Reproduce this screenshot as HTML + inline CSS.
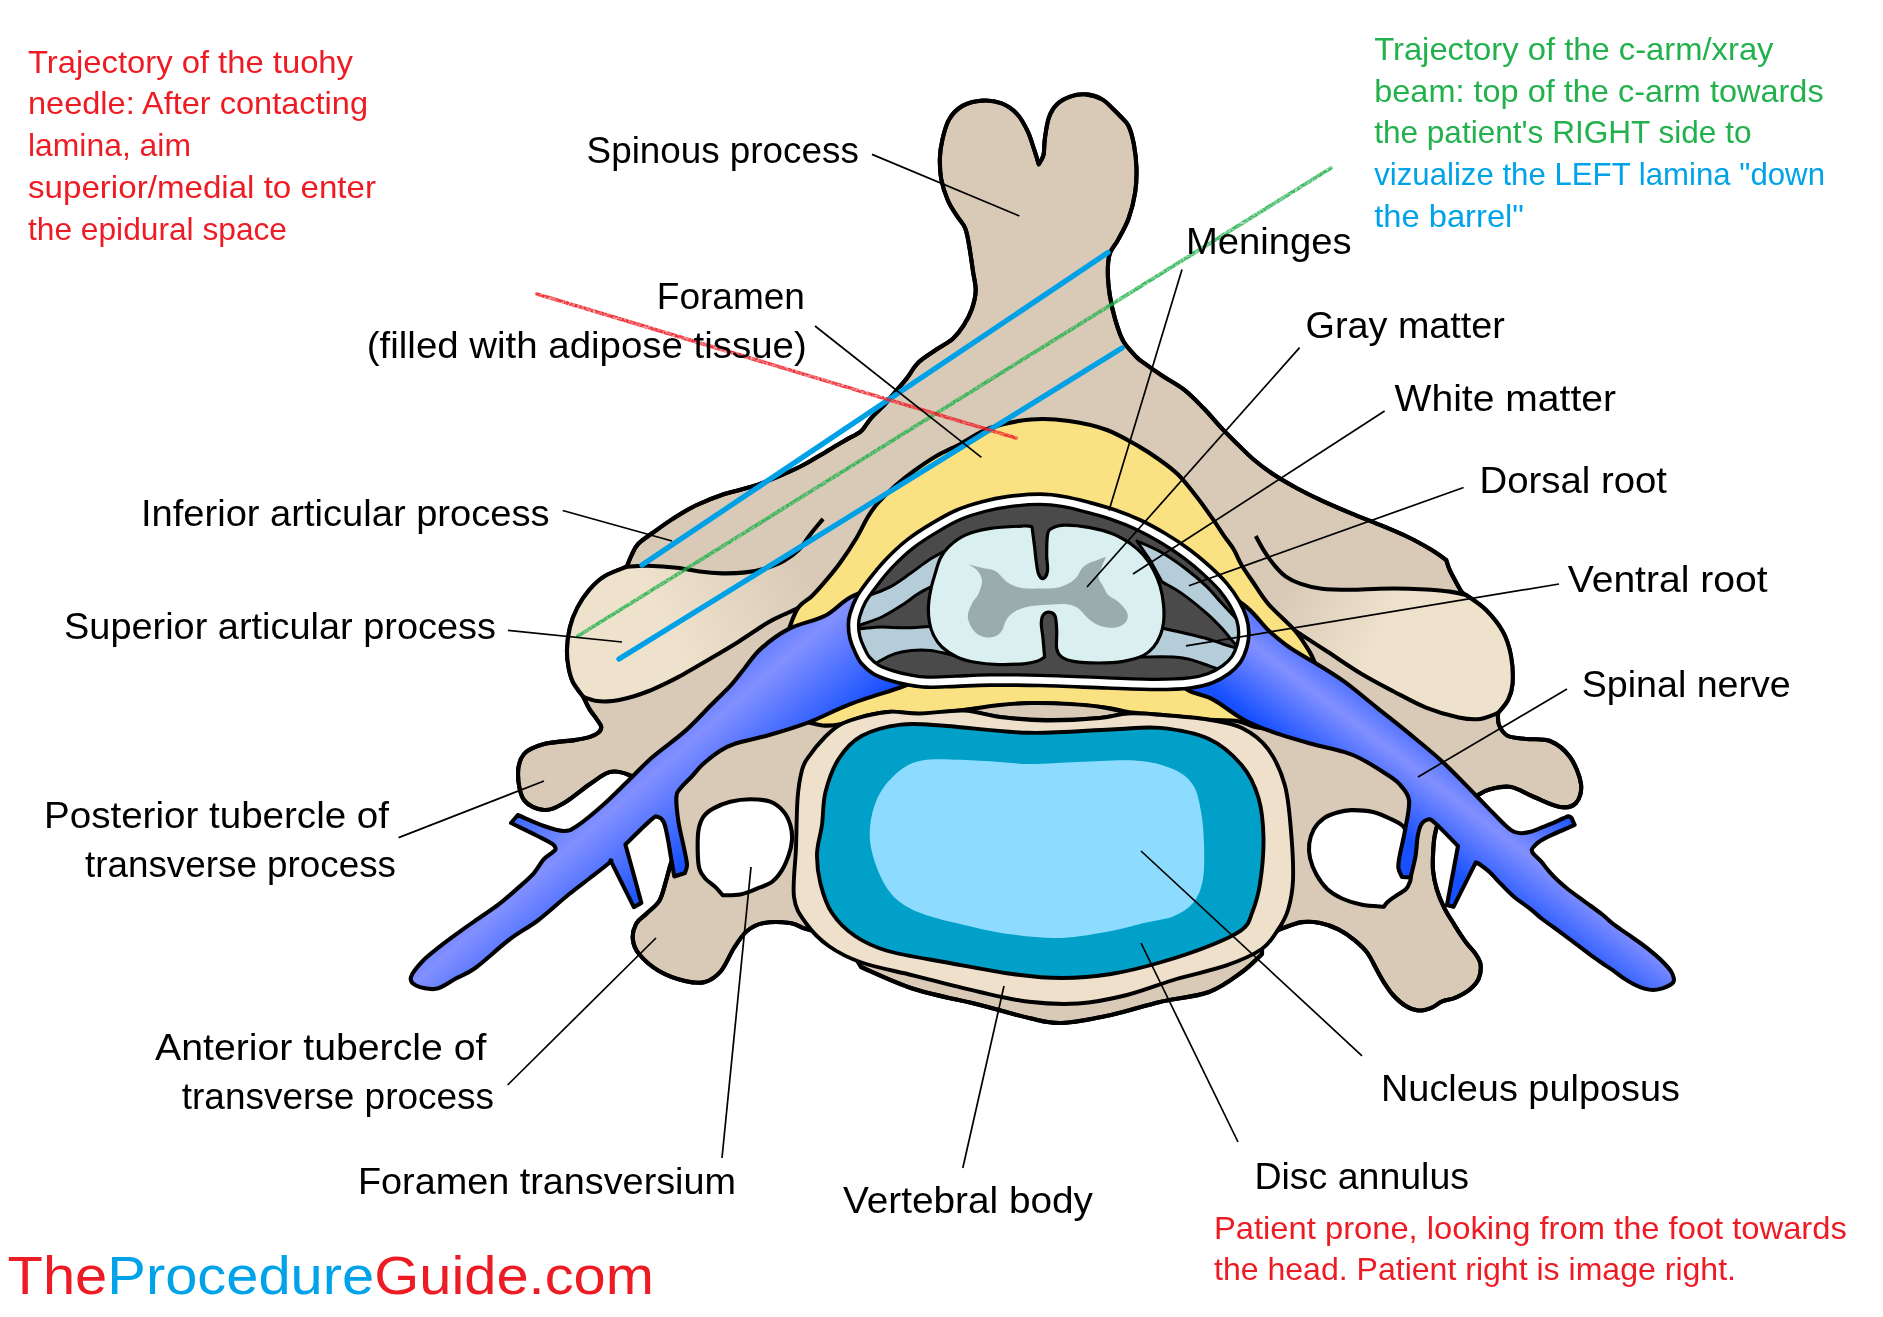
<!DOCTYPE html><html><head><meta charset="utf-8"><title>Cervical vertebra – interlaminar epidural trajectory</title>
<style>html,body{margin:0;padding:0;background:#fff}svg{display:block}text{font-family:"Liberation Sans",sans-serif}</style></head><body>
<svg width="1883" height="1317" viewBox="0 0 1883 1317">
<defs>
<linearGradient id="gL" gradientUnits="userSpaceOnUse" x1="590" y1="660" x2="800" y2="560"><stop offset="0" stop-color="#efe2cd"/><stop offset="0.35" stop-color="#efe2cd"/><stop offset="1" stop-color="#d8cab6"/></linearGradient>
<linearGradient id="gR" gradientUnits="userSpaceOnUse" x1="1500" y1="690" x2="1290" y2="580"><stop offset="0" stop-color="#efe2cd"/><stop offset="0.55" stop-color="#efe2cd"/><stop offset="1" stop-color="#d8cab6"/></linearGradient>
<linearGradient id="nL" gradientUnits="userSpaceOnUse" x1="705.8" y1="608.9" x2="824.2" y2="744.5"><stop offset="0" stop-color="#1650ff"/><stop offset="0.5" stop-color="#8290ff"/><stop offset="1" stop-color="#1650ff"/></linearGradient>
<linearGradient id="nR" gradientUnits="userSpaceOnUse" x1="1364" y1="654.2" x2="1291.2" y2="749.6"><stop offset="0" stop-color="#1650ff"/><stop offset="0.5" stop-color="#8290ff"/><stop offset="1" stop-color="#1650ff"/></linearGradient>
<clipPath id="cd"><path d="M848.4 625.3C848.4 621.1 848.6 618.3 850.0 613.6C851.4 608.9 853.6 602.6 856.7 597.0C859.8 591.4 863.7 586.3 868.4 580.2C873.1 574.1 878.7 566.9 885.1 560.2C891.5 553.5 899.0 546.2 906.8 540.1C914.6 534.0 923.5 528.4 931.9 523.4C940.2 518.4 948.5 513.6 956.9 510.0C965.2 506.4 973.6 503.9 982.0 501.7C990.4 499.5 997.3 497.9 1007.0 496.7C1016.7 495.4 1030.3 494.2 1040.0 494.2C1049.7 494.2 1056.7 495.3 1065.0 496.7C1073.3 498.1 1081.6 500.4 1090.0 502.6C1098.4 504.8 1106.8 507.1 1115.2 510.0C1123.6 512.9 1131.9 516.1 1140.2 520.0C1148.5 523.9 1156.9 528.5 1165.3 533.5C1173.7 538.5 1182.9 544.6 1190.4 550.2C1197.9 555.8 1204.3 561.3 1210.4 566.9C1216.5 572.5 1222.3 578.0 1227.0 583.6C1231.7 589.2 1235.6 594.7 1238.8 600.3C1242.0 605.9 1244.6 611.7 1246.3 617.0C1248.0 622.3 1248.7 627.0 1248.8 632.0C1248.9 637.0 1248.4 642.0 1247.0 647.0C1245.6 652.0 1243.5 657.5 1240.5 662.0C1237.5 666.5 1233.5 670.3 1228.8 673.8C1224.0 677.3 1218.4 680.6 1212.0 683.0C1205.6 685.4 1199.6 686.9 1190.4 688.0C1181.2 689.1 1170.9 689.5 1157.0 689.5C1143.1 689.5 1126.3 688.7 1106.8 688.0C1087.3 687.3 1059.4 686.0 1040.0 685.5C1020.6 685.0 1004.2 685.0 990.4 685.1C976.5 685.2 967.5 685.9 956.9 686.3C946.3 686.6 935.2 687.5 926.9 687.2C918.5 686.9 912.9 685.7 906.8 684.6C900.7 683.5 895.7 682.3 890.1 680.5C884.5 678.7 878.1 676.6 873.4 673.8C868.7 671.0 864.8 667.4 861.7 663.8C858.6 660.2 857.0 656.2 855.0 652.0C853.0 647.8 851.1 643.2 850.0 638.7C848.9 634.2 848.4 629.5 848.4 625.3Z"/></clipPath>
<filter id="rough" x="-2%" y="-2%" width="104%" height="104%"><feTurbulence type="fractalNoise" baseFrequency="0.45" numOctaves="2" seed="7" result="n"/><feColorMatrix in="n" type="matrix" values="0 0 0 0 0 0 0 0 0 0 0 0 0 0 0 0 0 0 -1.5 1.55" result="a"/><feComposite in="SourceGraphic" in2="a" operator="in"/></filter>
</defs>
<rect width="1883" height="1317" fill="#fff"/>
<g stroke="#000" stroke-width="4.1" stroke-linejoin="round" stroke-linecap="round">
<path d="M1038.7 164.3C1039.5 162.8 1042.5 159.2 1043.5 155.0C1044.5 150.8 1043.9 145.3 1044.8 139.1C1045.7 132.9 1046.8 123.6 1048.8 117.8C1050.8 112.0 1053.2 108.0 1056.8 104.5C1060.3 101.0 1065.2 98.3 1070.1 96.6C1075.0 94.9 1080.7 94.0 1086.0 94.4C1091.3 94.8 1097.6 96.9 1102.0 99.2C1106.4 101.5 1109.5 105.6 1112.6 108.5C1115.7 111.4 1117.9 113.6 1120.6 116.5C1123.2 119.4 1126.3 121.1 1128.5 125.8C1130.7 130.4 1132.6 137.3 1133.9 144.4C1135.2 151.5 1136.3 160.3 1136.5 168.3C1136.7 176.3 1136.5 183.8 1135.2 192.2C1133.9 200.6 1131.4 210.8 1128.5 218.8C1125.6 226.8 1121.0 234.3 1117.9 240.1C1114.8 245.9 1111.6 248.1 1109.9 253.4C1108.2 258.7 1107.8 264.9 1107.8 272.0C1107.8 279.1 1108.7 287.9 1109.9 295.9C1111.2 303.9 1113.1 312.3 1115.3 319.8C1117.5 327.3 1119.7 334.9 1123.2 341.1C1126.7 347.3 1133.1 353.4 1136.5 357.0C1139.9 360.6 1139.4 359.7 1143.8 362.9C1148.2 366.1 1156.3 371.8 1163.0 376.3C1169.7 380.8 1177.3 384.4 1184.0 389.7C1190.7 394.9 1196.8 401.3 1203.2 407.8C1209.6 414.3 1216.2 422.5 1222.3 428.9C1228.3 435.3 1234.1 440.8 1239.5 446.1C1244.9 451.4 1249.0 455.7 1254.8 460.5C1260.5 465.3 1267.0 470.2 1274.0 474.8C1281.0 479.4 1288.9 483.9 1296.9 488.2C1304.9 492.5 1312.9 496.5 1321.8 500.7C1330.7 504.9 1340.9 509.1 1350.5 513.1C1360.1 517.1 1369.6 520.6 1379.2 524.6C1388.8 528.6 1399.3 532.9 1407.9 537.0C1416.5 541.1 1424.5 545.7 1430.9 549.5C1437.3 553.3 1443.7 558.2 1446.2 560.0C1446.7 561.4 1447.8 565.6 1449.1 568.6C1450.4 571.6 1451.8 574.4 1453.9 578.2C1456.0 582.0 1459.5 588.8 1461.5 591.6C1463.5 594.4 1465.2 594.4 1466.0 595.0C1469.3 597.5 1479.8 603.8 1486.0 610.0C1492.2 616.2 1498.8 624.3 1503.0 632.0C1507.2 639.7 1509.4 647.3 1511.0 656.0C1512.6 664.7 1513.0 676.7 1512.5 684.0C1512.0 691.3 1510.4 695.2 1508.0 700.0C1505.6 704.8 1499.7 710.8 1498.0 713.0C1498.2 715.0 1497.3 721.2 1499.0 725.0C1500.7 728.8 1503.3 733.7 1508.0 736.0C1512.7 738.3 1520.0 738.2 1527.0 739.0C1534.0 739.8 1542.8 738.0 1550.0 741.0C1557.2 744.0 1564.8 749.8 1570.0 757.0C1575.2 764.2 1580.0 776.3 1581.0 784.0C1582.0 791.7 1579.5 799.2 1576.0 803.0C1572.5 806.8 1567.0 808.0 1560.0 807.0C1553.0 806.0 1542.2 800.3 1534.0 797.0C1525.8 793.7 1518.2 788.3 1511.0 787.0C1503.8 785.7 1496.5 787.7 1491.0 789.0C1485.5 790.3 1483.2 791.2 1478.0 795.0C1472.8 798.8 1466.3 807.5 1460.0 812.0C1453.7 816.5 1444.2 818.2 1440.0 822.0C1435.8 825.8 1436.1 829.6 1434.9 834.7C1433.8 839.9 1433.4 846.8 1433.1 852.9C1432.8 859.0 1432.5 865.0 1433.1 871.1C1433.7 877.2 1435.0 883.2 1436.8 889.3C1438.6 895.4 1441.1 901.5 1444.1 907.6C1447.1 913.7 1451.4 920.0 1455.0 925.8C1458.6 931.6 1462.6 937.7 1465.9 942.2C1469.2 946.8 1472.6 949.5 1475.0 953.1C1477.4 956.8 1479.9 959.9 1480.5 964.1C1481.1 968.4 1480.5 974.4 1478.7 978.6C1476.9 982.9 1473.5 986.4 1469.6 989.6C1465.6 992.8 1459.6 995.8 1455.0 997.8C1450.4 999.8 1446.2 999.7 1442.2 1001.4C1438.2 1003.1 1435.2 1006.3 1431.3 1007.8C1427.3 1009.3 1422.8 1010.8 1418.5 1010.5C1414.2 1010.2 1410.0 1008.6 1405.8 1006.0C1401.5 1003.4 1396.7 999.0 1393.0 995.0C1389.3 991.0 1386.6 986.5 1383.9 982.3C1381.2 978.0 1379.3 974.4 1376.6 969.5C1373.9 964.6 1371.1 958.0 1367.5 953.1C1363.9 948.2 1359.6 944.4 1354.8 940.4C1350.0 936.4 1344.2 932.3 1338.4 929.4C1332.6 926.5 1326.2 924.2 1320.1 923.0C1314.0 921.8 1308.3 921.2 1301.9 922.1C1295.5 923.0 1285.2 927.4 1281.9 928.5L1262.0 938.0L1262.0 954.0C1258.7 957.0 1250.8 965.7 1242.0 972.0C1233.2 978.3 1222.7 987.0 1209.0 992.0C1195.3 997.0 1176.3 998.2 1160.0 1002.0C1143.7 1005.8 1127.3 1011.5 1111.0 1015.0C1094.7 1018.5 1075.7 1022.5 1062.0 1023.0C1048.3 1023.5 1042.7 1021.0 1029.0 1018.0C1015.3 1015.0 999.2 1009.8 980.0 1005.0C960.8 1000.2 933.8 995.3 914.0 989.0C894.2 982.7 869.8 970.7 861.0 967.0L845.0 940.0L803.0 928.0C800.8 927.2 796.5 923.8 790.0 923.0C783.5 922.2 771.2 921.7 764.0 923.0C756.8 924.3 752.0 926.8 747.0 931.0C742.0 935.2 738.3 941.3 734.0 948.0C729.7 954.7 725.8 965.3 721.0 971.0C716.2 976.7 711.0 980.3 705.0 982.0C699.0 983.7 692.7 982.8 685.0 981.0C677.3 979.2 666.7 975.5 659.0 971.0C651.3 966.5 643.4 959.3 639.0 954.0C634.6 948.7 633.3 944.0 632.8 939.0C632.3 934.0 633.7 928.4 636.0 924.1C638.3 919.9 642.7 917.4 646.6 913.5C650.5 909.6 656.2 906.0 659.4 900.7C662.6 895.4 664.0 887.4 665.8 881.6C667.6 875.8 668.5 871.3 670.0 866.0C671.5 860.7 674.0 856.0 675.0 850.0C676.0 844.0 676.5 837.5 676.0 830.0C675.5 822.5 675.5 811.7 672.0 805.0C668.5 798.3 662.2 795.0 655.0 790.0C647.8 785.0 636.5 778.0 629.0 775.0C621.5 772.0 616.5 770.5 610.0 772.0C603.5 773.5 597.7 778.8 590.0 784.0C582.3 789.2 571.7 798.7 564.0 803.0C556.3 807.3 550.7 810.5 544.0 810.0C537.3 809.5 528.3 806.0 524.0 800.0C519.7 794.0 518.0 781.7 518.0 774.0C518.0 766.3 519.7 759.0 524.0 754.0C528.3 749.0 535.6 746.3 544.0 744.0C552.4 741.7 566.9 741.2 574.4 740.1C581.9 739.0 585.3 738.3 589.3 737.1C593.3 735.9 596.2 734.4 598.2 732.7C600.2 731.0 601.4 728.9 601.2 726.7C601.0 724.5 598.8 722.3 596.8 719.3C594.8 716.3 591.5 712.6 589.3 708.9C587.1 705.2 584.4 699.0 583.4 697.0C581.6 694.5 575.4 687.0 572.9 682.0C570.4 677.0 569.5 672.7 568.5 667.2C567.5 661.8 566.8 656.0 567.0 649.3C567.2 642.6 568.3 634.0 570.0 627.0C571.7 620.0 574.2 613.8 577.4 607.6C580.6 601.4 584.8 595.0 589.3 589.8C593.8 584.6 598.0 580.2 604.2 576.4C610.5 572.5 623.0 568.3 626.8 566.7C627.6 564.8 629.7 559.0 631.6 555.2C633.5 551.4 634.6 547.5 638.3 543.7C642.0 539.9 647.9 536.3 653.6 532.2C659.3 528.1 665.7 523.4 672.7 518.9C679.7 514.4 687.1 509.6 695.7 505.5C704.3 501.4 714.8 497.2 724.4 494.0C734.0 490.8 744.2 489.2 753.1 486.3C762.0 483.4 769.7 480.2 778.0 476.7C786.3 473.2 794.9 469.4 802.9 465.3C810.9 461.2 818.8 456.0 825.8 451.9C832.8 447.8 839.2 443.8 845.0 440.4C850.8 437.0 856.8 434.4 860.3 431.8C863.8 429.2 864.1 427.5 866.0 425.1C867.9 422.7 868.9 420.6 871.8 417.4C874.7 414.2 879.5 410.0 883.3 405.9C887.1 401.8 890.9 397.0 894.7 392.5C898.5 388.0 902.2 384.1 906.2 379.1C910.2 374.1 913.4 367.3 918.6 362.3C923.8 357.3 931.5 353.0 937.2 349.0C943.0 345.0 948.7 342.4 953.1 338.4C957.5 334.4 960.7 330.0 963.8 325.1C966.9 320.2 969.8 314.9 971.8 309.2C973.8 303.4 975.5 296.8 975.7 290.6C975.9 284.4 974.2 279.5 973.1 272.0C972.0 264.5 970.4 252.7 969.1 245.4C967.8 238.1 967.1 233.0 965.1 228.1C963.1 223.2 960.0 220.8 957.1 216.2C954.2 211.5 950.4 206.4 947.8 200.2C945.1 194.0 942.5 186.1 941.2 179.0C939.9 171.9 939.7 164.3 939.9 157.7C940.1 151.0 941.0 145.5 942.5 139.1C944.0 132.7 945.9 124.7 949.2 119.2C952.5 113.7 957.0 109.0 962.5 105.9C968.0 102.8 976.0 101.0 982.4 100.6C988.8 100.1 995.2 101.0 1001.0 103.2C1006.8 105.4 1012.5 109.2 1016.9 113.8C1021.3 118.4 1024.7 125.1 1027.6 131.1C1030.5 137.1 1032.3 144.2 1034.2 149.7C1036.1 155.2 1038.0 161.9 1038.7 164.3Z" fill="#d8cab6"/>
<path d="M626.8 566.7C630.3 566.5 639.5 565.5 647.8 565.7C656.1 565.9 668.0 566.7 676.6 567.7C685.2 568.7 691.9 570.5 699.5 571.5C707.1 572.5 714.8 573.2 722.5 573.4C730.2 573.5 738.5 573.2 745.5 572.4C752.5 571.6 758.2 570.5 764.6 568.6C771.0 566.7 778.0 564.2 783.7 561.0C789.4 557.8 794.5 554.0 799.0 549.5C803.5 545.0 806.5 539.3 810.5 534.2C814.5 529.1 820.9 521.5 823.0 518.9C828.6 522.1 853.7 530.6 856.5 538.0C859.3 545.4 845.6 555.3 840.0 563.0C834.4 570.7 827.7 578.5 823.0 584.0C818.3 589.5 816.2 592.0 812.0 596.0C807.8 600.0 800.3 606.0 798.0 608.0C795.7 609.1 789.0 612.1 784.0 614.5C779.0 616.9 775.6 617.9 768.0 622.5C760.4 627.1 748.1 635.7 738.2 641.9C728.3 648.1 718.3 653.9 708.4 659.7C698.5 665.5 686.0 672.8 678.6 676.9C671.2 681.0 668.7 681.9 663.7 684.3C658.8 686.6 653.9 689.0 648.9 691.0C643.9 693.0 639.0 694.7 634.0 696.2C629.0 697.7 623.6 699.0 619.1 699.9C614.6 700.8 611.2 701.3 607.2 701.4C603.2 701.5 599.3 701.4 595.3 700.7C591.3 700.0 585.4 697.6 583.4 697.0C581.6 694.5 575.4 687.0 572.9 682.0C570.4 677.0 569.5 672.7 568.5 667.2C567.5 661.8 566.8 656.0 567.0 649.3C567.2 642.6 568.3 634.0 570.0 627.0C571.7 620.0 574.2 613.8 577.4 607.6C580.6 601.4 584.8 595.0 589.3 589.8C593.8 584.6 598.0 580.2 604.2 576.4C610.5 572.5 623.0 568.3 626.8 566.7Z" fill="url(#gL)" stroke="none"/>
<path d="M1466.0 595.0C1469.3 597.5 1479.8 603.8 1486.0 610.0C1492.2 616.2 1498.8 624.3 1503.0 632.0C1507.2 639.7 1509.4 647.3 1511.0 656.0C1512.6 664.7 1513.0 676.7 1512.5 684.0C1512.0 691.3 1510.4 695.2 1508.0 700.0C1505.6 704.8 1499.7 710.8 1498.0 713.0C1495.0 714.0 1486.5 718.2 1480.0 719.0C1473.5 719.8 1467.8 719.4 1458.8 717.5C1449.8 715.6 1436.9 712.0 1426.0 707.6C1415.1 703.2 1404.1 696.9 1393.2 691.2C1382.3 685.5 1371.3 679.8 1360.4 673.2C1349.5 666.6 1338.5 658.9 1327.6 651.8C1316.7 644.7 1300.3 634.0 1294.8 630.5C1290.4 626.1 1277.5 615.2 1268.6 604.3C1259.7 593.3 1247.2 573.9 1241.4 564.8C1235.6 555.7 1231.4 554.3 1233.8 549.5C1236.2 544.7 1252.1 538.3 1255.8 536.1C1257.2 538.6 1261.4 546.6 1264.4 551.4C1267.4 556.2 1270.5 560.6 1274.0 564.8C1277.5 568.9 1281.0 573.1 1285.5 576.3C1290.0 579.5 1294.8 581.8 1300.8 583.9C1306.8 586.0 1313.5 587.7 1321.8 588.7C1330.1 589.7 1340.9 589.7 1350.5 589.7C1360.1 589.7 1369.6 588.9 1379.2 588.7C1388.8 588.5 1399.3 588.5 1407.9 588.7C1416.5 588.9 1423.9 589.2 1430.9 589.7C1437.9 590.2 1444.2 590.7 1450.0 591.6C1455.8 592.5 1463.3 594.4 1466.0 595.0Z" fill="url(#gR)" stroke="none"/>
<path d="M1038.7 164.3C1039.5 162.8 1042.5 159.2 1043.5 155.0C1044.5 150.8 1043.9 145.3 1044.8 139.1C1045.7 132.9 1046.8 123.6 1048.8 117.8C1050.8 112.0 1053.2 108.0 1056.8 104.5C1060.3 101.0 1065.2 98.3 1070.1 96.6C1075.0 94.9 1080.7 94.0 1086.0 94.4C1091.3 94.8 1097.6 96.9 1102.0 99.2C1106.4 101.5 1109.5 105.6 1112.6 108.5C1115.7 111.4 1117.9 113.6 1120.6 116.5C1123.2 119.4 1126.3 121.1 1128.5 125.8C1130.7 130.4 1132.6 137.3 1133.9 144.4C1135.2 151.5 1136.3 160.3 1136.5 168.3C1136.7 176.3 1136.5 183.8 1135.2 192.2C1133.9 200.6 1131.4 210.8 1128.5 218.8C1125.6 226.8 1121.0 234.3 1117.9 240.1C1114.8 245.9 1111.6 248.1 1109.9 253.4C1108.2 258.7 1107.8 264.9 1107.8 272.0C1107.8 279.1 1108.7 287.9 1109.9 295.9C1111.2 303.9 1113.1 312.3 1115.3 319.8C1117.5 327.3 1119.7 334.9 1123.2 341.1C1126.7 347.3 1133.1 353.4 1136.5 357.0C1139.9 360.6 1139.4 359.7 1143.8 362.9C1148.2 366.1 1156.3 371.8 1163.0 376.3C1169.7 380.8 1177.3 384.4 1184.0 389.7C1190.7 394.9 1196.8 401.3 1203.2 407.8C1209.6 414.3 1216.2 422.5 1222.3 428.9C1228.3 435.3 1234.1 440.8 1239.5 446.1C1244.9 451.4 1249.0 455.7 1254.8 460.5C1260.5 465.3 1267.0 470.2 1274.0 474.8C1281.0 479.4 1288.9 483.9 1296.9 488.2C1304.9 492.5 1312.9 496.5 1321.8 500.7C1330.7 504.9 1340.9 509.1 1350.5 513.1C1360.1 517.1 1369.6 520.6 1379.2 524.6C1388.8 528.6 1399.3 532.9 1407.9 537.0C1416.5 541.1 1424.5 545.7 1430.9 549.5C1437.3 553.3 1443.7 558.2 1446.2 560.0C1446.7 561.4 1447.8 565.6 1449.1 568.6C1450.4 571.6 1451.8 574.4 1453.9 578.2C1456.0 582.0 1459.5 588.8 1461.5 591.6C1463.5 594.4 1465.2 594.4 1466.0 595.0C1469.3 597.5 1479.8 603.8 1486.0 610.0C1492.2 616.2 1498.8 624.3 1503.0 632.0C1507.2 639.7 1509.4 647.3 1511.0 656.0C1512.6 664.7 1513.0 676.7 1512.5 684.0C1512.0 691.3 1510.4 695.2 1508.0 700.0C1505.6 704.8 1499.7 710.8 1498.0 713.0C1498.2 715.0 1497.3 721.2 1499.0 725.0C1500.7 728.8 1503.3 733.7 1508.0 736.0C1512.7 738.3 1520.0 738.2 1527.0 739.0C1534.0 739.8 1542.8 738.0 1550.0 741.0C1557.2 744.0 1564.8 749.8 1570.0 757.0C1575.2 764.2 1580.0 776.3 1581.0 784.0C1582.0 791.7 1579.5 799.2 1576.0 803.0C1572.5 806.8 1567.0 808.0 1560.0 807.0C1553.0 806.0 1542.2 800.3 1534.0 797.0C1525.8 793.7 1518.2 788.3 1511.0 787.0C1503.8 785.7 1496.5 787.7 1491.0 789.0C1485.5 790.3 1483.2 791.2 1478.0 795.0C1472.8 798.8 1466.3 807.5 1460.0 812.0C1453.7 816.5 1444.2 818.2 1440.0 822.0C1435.8 825.8 1436.1 829.6 1434.9 834.7C1433.8 839.9 1433.4 846.8 1433.1 852.9C1432.8 859.0 1432.5 865.0 1433.1 871.1C1433.7 877.2 1435.0 883.2 1436.8 889.3C1438.6 895.4 1441.1 901.5 1444.1 907.6C1447.1 913.7 1451.4 920.0 1455.0 925.8C1458.6 931.6 1462.6 937.7 1465.9 942.2C1469.2 946.8 1472.6 949.5 1475.0 953.1C1477.4 956.8 1479.9 959.9 1480.5 964.1C1481.1 968.4 1480.5 974.4 1478.7 978.6C1476.9 982.9 1473.5 986.4 1469.6 989.6C1465.6 992.8 1459.6 995.8 1455.0 997.8C1450.4 999.8 1446.2 999.7 1442.2 1001.4C1438.2 1003.1 1435.2 1006.3 1431.3 1007.8C1427.3 1009.3 1422.8 1010.8 1418.5 1010.5C1414.2 1010.2 1410.0 1008.6 1405.8 1006.0C1401.5 1003.4 1396.7 999.0 1393.0 995.0C1389.3 991.0 1386.6 986.5 1383.9 982.3C1381.2 978.0 1379.3 974.4 1376.6 969.5C1373.9 964.6 1371.1 958.0 1367.5 953.1C1363.9 948.2 1359.6 944.4 1354.8 940.4C1350.0 936.4 1344.2 932.3 1338.4 929.4C1332.6 926.5 1326.2 924.2 1320.1 923.0C1314.0 921.8 1308.3 921.2 1301.9 922.1C1295.5 923.0 1285.2 927.4 1281.9 928.5L1262.0 938.0L1262.0 954.0C1258.7 957.0 1250.8 965.7 1242.0 972.0C1233.2 978.3 1222.7 987.0 1209.0 992.0C1195.3 997.0 1176.3 998.2 1160.0 1002.0C1143.7 1005.8 1127.3 1011.5 1111.0 1015.0C1094.7 1018.5 1075.7 1022.5 1062.0 1023.0C1048.3 1023.5 1042.7 1021.0 1029.0 1018.0C1015.3 1015.0 999.2 1009.8 980.0 1005.0C960.8 1000.2 933.8 995.3 914.0 989.0C894.2 982.7 869.8 970.7 861.0 967.0L845.0 940.0L803.0 928.0C800.8 927.2 796.5 923.8 790.0 923.0C783.5 922.2 771.2 921.7 764.0 923.0C756.8 924.3 752.0 926.8 747.0 931.0C742.0 935.2 738.3 941.3 734.0 948.0C729.7 954.7 725.8 965.3 721.0 971.0C716.2 976.7 711.0 980.3 705.0 982.0C699.0 983.7 692.7 982.8 685.0 981.0C677.3 979.2 666.7 975.5 659.0 971.0C651.3 966.5 643.4 959.3 639.0 954.0C634.6 948.7 633.3 944.0 632.8 939.0C632.3 934.0 633.7 928.4 636.0 924.1C638.3 919.9 642.7 917.4 646.6 913.5C650.5 909.6 656.2 906.0 659.4 900.7C662.6 895.4 664.0 887.4 665.8 881.6C667.6 875.8 668.5 871.3 670.0 866.0C671.5 860.7 674.0 856.0 675.0 850.0C676.0 844.0 676.5 837.5 676.0 830.0C675.5 822.5 675.5 811.7 672.0 805.0C668.5 798.3 662.2 795.0 655.0 790.0C647.8 785.0 636.5 778.0 629.0 775.0C621.5 772.0 616.5 770.5 610.0 772.0C603.5 773.5 597.7 778.8 590.0 784.0C582.3 789.2 571.7 798.7 564.0 803.0C556.3 807.3 550.7 810.5 544.0 810.0C537.3 809.5 528.3 806.0 524.0 800.0C519.7 794.0 518.0 781.7 518.0 774.0C518.0 766.3 519.7 759.0 524.0 754.0C528.3 749.0 535.6 746.3 544.0 744.0C552.4 741.7 566.9 741.2 574.4 740.1C581.9 739.0 585.3 738.3 589.3 737.1C593.3 735.9 596.2 734.4 598.2 732.7C600.2 731.0 601.4 728.9 601.2 726.7C601.0 724.5 598.8 722.3 596.8 719.3C594.8 716.3 591.5 712.6 589.3 708.9C587.1 705.2 584.4 699.0 583.4 697.0C581.6 694.5 575.4 687.0 572.9 682.0C570.4 677.0 569.5 672.7 568.5 667.2C567.5 661.8 566.8 656.0 567.0 649.3C567.2 642.6 568.3 634.0 570.0 627.0C571.7 620.0 574.2 613.8 577.4 607.6C580.6 601.4 584.8 595.0 589.3 589.8C593.8 584.6 598.0 580.2 604.2 576.4C610.5 572.5 623.0 568.3 626.8 566.7C627.6 564.8 629.7 559.0 631.6 555.2C633.5 551.4 634.6 547.5 638.3 543.7C642.0 539.9 647.9 536.3 653.6 532.2C659.3 528.1 665.7 523.4 672.7 518.9C679.7 514.4 687.1 509.6 695.7 505.5C704.3 501.4 714.8 497.2 724.4 494.0C734.0 490.8 744.2 489.2 753.1 486.3C762.0 483.4 769.7 480.2 778.0 476.7C786.3 473.2 794.9 469.4 802.9 465.3C810.9 461.2 818.8 456.0 825.8 451.9C832.8 447.8 839.2 443.8 845.0 440.4C850.8 437.0 856.8 434.4 860.3 431.8C863.8 429.2 864.1 427.5 866.0 425.1C867.9 422.7 868.9 420.6 871.8 417.4C874.7 414.2 879.5 410.0 883.3 405.9C887.1 401.8 890.9 397.0 894.7 392.5C898.5 388.0 902.2 384.1 906.2 379.1C910.2 374.1 913.4 367.3 918.6 362.3C923.8 357.3 931.5 353.0 937.2 349.0C943.0 345.0 948.7 342.4 953.1 338.4C957.5 334.4 960.7 330.0 963.8 325.1C966.9 320.2 969.8 314.9 971.8 309.2C973.8 303.4 975.5 296.8 975.7 290.6C975.9 284.4 974.2 279.5 973.1 272.0C972.0 264.5 970.4 252.7 969.1 245.4C967.8 238.1 967.1 233.0 965.1 228.1C963.1 223.2 960.0 220.8 957.1 216.2C954.2 211.5 950.4 206.4 947.8 200.2C945.1 194.0 942.5 186.1 941.2 179.0C939.9 171.9 939.7 164.3 939.9 157.7C940.1 151.0 941.0 145.5 942.5 139.1C944.0 132.7 945.9 124.7 949.2 119.2C952.5 113.7 957.0 109.0 962.5 105.9C968.0 102.8 976.0 101.0 982.4 100.6C988.8 100.1 995.2 101.0 1001.0 103.2C1006.8 105.4 1012.5 109.2 1016.9 113.8C1021.3 118.4 1024.7 125.1 1027.6 131.1C1030.5 137.1 1032.3 144.2 1034.2 149.7C1036.1 155.2 1038.0 161.9 1038.7 164.3Z" fill="none"/>
<path d="M626.8 566.7C630.3 566.5 639.5 565.5 647.8 565.7C656.1 565.9 668.0 566.7 676.6 567.7C685.2 568.7 691.9 570.5 699.5 571.5C707.1 572.5 714.8 573.2 722.5 573.4C730.2 573.5 738.5 573.2 745.5 572.4C752.5 571.6 758.2 570.5 764.6 568.6C771.0 566.7 778.0 564.2 783.7 561.0C789.4 557.8 794.5 554.0 799.0 549.5C803.5 545.0 806.5 539.3 810.5 534.2C814.5 529.1 820.9 521.5 823.0 518.9" fill="none" stroke-linecap="butt"/>
<path d="M583.4 697.0C585.4 697.6 591.3 700.0 595.3 700.7C599.3 701.4 603.2 701.5 607.2 701.4C611.2 701.3 614.6 700.8 619.1 699.9C623.6 699.0 629.0 697.7 634.0 696.2C639.0 694.7 643.9 693.0 648.9 691.0C653.9 689.0 658.8 686.6 663.7 684.3C668.7 681.9 671.2 681.0 678.6 676.9C686.0 672.8 698.5 665.5 708.4 659.7C718.3 653.9 728.3 648.1 738.2 641.9C748.1 635.7 760.4 627.1 768.0 622.5C775.6 617.9 779.0 616.9 784.0 614.5C789.0 612.1 795.7 609.1 798.0 608.0" fill="none"/>
<path d="M1255.8 536.1C1257.2 538.6 1261.4 546.6 1264.4 551.4C1267.4 556.2 1270.5 560.6 1274.0 564.8C1277.5 568.9 1281.0 573.1 1285.5 576.3C1290.0 579.5 1294.8 581.8 1300.8 583.9C1306.8 586.0 1313.5 587.7 1321.8 588.7C1330.1 589.7 1340.9 589.7 1350.5 589.7C1360.1 589.7 1369.6 588.9 1379.2 588.7C1388.8 588.5 1399.3 588.5 1407.9 588.7C1416.5 588.9 1423.9 589.2 1430.9 589.7C1437.9 590.2 1444.2 590.7 1450.0 591.6C1455.8 592.5 1463.3 594.4 1466.0 595.0" fill="none" stroke-linecap="butt"/>
<path d="M1498.0 713.0C1495.0 714.0 1486.5 718.2 1480.0 719.0C1473.5 719.8 1467.8 719.4 1458.8 717.5C1449.8 715.6 1436.9 712.0 1426.0 707.6C1415.1 703.2 1404.1 696.9 1393.2 691.2C1382.3 685.5 1371.3 679.8 1360.4 673.2C1349.5 666.6 1338.5 658.9 1327.6 651.8C1316.7 644.7 1300.3 634.0 1294.8 630.5" fill="none"/>
<path d="M722.7 895.2C721.5 893.8 718.1 889.7 715.2 886.9C712.3 884.1 707.9 881.6 705.2 878.5C702.6 875.4 700.5 873.2 699.3 868.5C698.0 863.8 697.8 856.5 697.7 850.1C697.6 843.7 697.5 835.7 698.5 830.1C699.5 824.5 701.0 820.3 703.5 816.7C706.0 813.1 709.0 810.9 713.5 808.4C718.0 805.9 724.1 803.2 730.2 801.7C736.3 800.2 743.6 799.2 750.3 799.2C757.0 799.2 764.7 799.6 770.3 801.7C775.9 803.8 780.4 807.8 783.7 811.7C787.1 815.6 789.0 820.4 790.4 825.1C791.8 829.8 792.3 835.1 792.0 840.1C791.7 845.1 790.4 850.2 788.7 855.2C787.0 860.2 784.8 865.8 782.0 870.2C779.2 874.7 776.2 878.8 772.0 881.9C767.8 885.0 762.3 886.5 757.0 888.6C751.7 890.7 746.0 893.3 740.3 894.4C734.6 895.5 725.6 895.1 722.7 895.2Z" fill="#fff"/>
<path d="M1383.9 906.7C1380.2 906.4 1369.0 906.2 1362.0 904.8C1355.0 903.4 1347.8 901.1 1342.0 898.5C1336.2 895.9 1331.7 893.2 1327.4 889.3C1323.2 885.3 1319.4 879.9 1316.5 874.8C1313.6 869.6 1311.3 863.6 1310.1 858.4C1308.9 853.2 1308.6 848.7 1309.2 843.8C1309.8 838.9 1311.4 833.5 1313.8 829.2C1316.2 825.0 1320.0 821.0 1323.8 818.3C1327.6 815.6 1332.0 814.2 1336.5 812.8C1341.0 811.4 1345.0 810.2 1351.1 810.1C1357.2 810.0 1366.3 810.4 1373.0 811.9C1379.7 813.4 1386.0 816.6 1391.2 819.2C1396.4 821.8 1401.0 822.9 1404.0 827.4C1407.0 831.9 1407.9 838.0 1409.0 846.0C1410.1 854.0 1410.7 869.4 1410.8 875.6C1410.9 881.8 1410.2 880.7 1409.4 883.0C1408.6 885.3 1408.2 887.0 1405.8 889.3C1403.4 891.6 1397.9 894.5 1394.9 896.6C1391.9 898.7 1389.4 900.4 1387.6 902.1C1385.8 903.8 1384.5 905.9 1383.9 906.7Z" fill="#fff"/>
<path d="M788.9 628.9C790.4 625.4 794.1 613.5 798.0 608.0C801.9 602.5 807.8 600.0 812.0 596.0C816.2 592.0 818.3 589.5 823.0 584.0C827.7 578.5 834.4 570.7 840.0 563.0C845.6 555.3 851.9 545.7 856.5 538.0C861.1 530.3 864.4 522.6 867.9 516.9C871.4 511.1 873.0 508.6 877.5 503.5C882.0 498.4 888.6 491.7 894.7 486.3C900.8 480.9 906.9 476.1 913.9 471.0C920.9 465.9 929.1 460.2 936.8 455.7C944.5 451.2 951.1 448.8 960.0 444.2C968.9 439.6 978.2 432.1 990.0 428.0C1001.8 423.9 1017.8 420.7 1031.0 419.5C1044.2 418.3 1056.3 419.2 1069.0 421.0C1081.7 422.8 1095.2 425.6 1107.0 430.0C1118.8 434.4 1131.3 442.2 1140.0 447.1C1148.7 452.0 1152.7 454.9 1159.1 459.5C1165.5 464.1 1171.9 468.4 1178.3 474.8C1184.7 481.2 1191.7 490.5 1197.4 497.8C1203.1 505.1 1208.2 512.5 1212.7 518.9C1217.2 525.3 1220.7 531.0 1224.2 536.1C1227.7 541.2 1230.9 544.7 1233.8 549.5C1236.7 554.3 1238.2 559.4 1241.4 564.8C1244.6 570.2 1248.4 575.4 1252.9 582.0C1257.4 588.6 1261.6 596.2 1268.6 604.3C1275.6 612.4 1288.0 622.6 1294.8 630.5C1301.6 638.4 1306.3 646.5 1309.6 651.8C1312.9 657.0 1313.7 660.3 1314.5 662.0L1272.0 729.0C1269.2 728.7 1260.8 728.3 1255.0 727.0C1249.2 725.7 1244.7 722.2 1237.0 721.0C1229.3 719.8 1221.8 720.7 1209.0 719.7C1196.2 718.7 1173.5 716.1 1160.0 714.8C1146.5 713.5 1137.8 713.3 1128.0 712.0C1118.2 710.7 1117.0 708.5 1101.0 707.0C1085.0 705.5 1054.8 702.5 1032.0 703.0C1009.2 703.5 982.7 708.2 964.0 710.0C945.3 711.8 932.2 713.7 920.0 714.0C907.8 714.3 899.6 711.4 890.6 711.7C881.6 712.0 874.2 713.8 866.0 715.8C857.8 717.8 848.2 722.4 841.4 724.0C834.6 725.6 830.5 725.9 825.0 725.6C819.5 725.3 811.3 722.9 808.6 722.4L788.9 628.9Z" fill="#fae282"/>
<path d="M964.0 710.0C970.0 709.2 988.7 706.2 1000.0 705.0C1011.3 703.8 1020.3 703.2 1032.0 703.0C1043.7 702.8 1058.5 703.3 1070.0 704.0C1081.5 704.7 1091.3 705.5 1101.0 707.0C1110.7 708.5 1123.5 712.0 1128.0 713.0C1123.3 713.8 1113.7 716.8 1100.0 718.0C1086.3 719.2 1062.7 720.2 1046.0 720.0C1029.3 719.8 1013.7 718.7 1000.0 717.0C986.3 715.3 970.0 711.2 964.0 710.0Z" fill="#d8cab6"/>
<path d="M880.0 585.0C874.9 587.1 858.8 592.6 849.6 597.7C840.4 602.8 835.1 610.6 825.0 615.8C814.9 621.0 799.6 623.4 788.9 628.9C778.2 634.4 768.4 642.0 761.0 648.6C753.6 655.2 749.5 662.2 744.6 668.2C739.7 674.2 737.0 678.6 731.5 684.6C726.0 690.6 719.4 696.6 711.8 704.3C704.1 712.0 695.4 721.9 685.6 730.6C675.8 739.4 662.2 748.6 652.8 756.8C643.4 765.0 637.3 772.0 629.0 780.0C620.7 788.0 611.7 797.3 603.0 805.0C594.3 812.7 583.5 821.7 577.0 826.0C570.5 830.3 569.2 831.0 563.7 831.0C558.2 831.0 551.6 828.7 544.0 826.0C536.4 823.3 522.2 816.8 517.8 815.0L511.0 823.0C515.4 825.2 530.6 832.5 537.5 836.0C544.4 839.5 549.3 841.7 552.3 843.9C555.3 846.1 555.6 847.6 555.6 849.0C555.6 850.4 554.3 850.7 552.3 852.5C550.3 854.3 546.5 856.2 543.4 859.7C540.3 863.2 537.6 869.0 533.5 873.6C529.4 878.2 524.5 882.3 518.7 887.4C513.0 892.5 505.6 899.1 499.0 904.2C492.4 909.3 485.8 913.4 479.2 918.0C472.6 922.6 466.1 927.0 459.5 931.8C452.9 936.6 445.8 941.7 439.7 946.6C433.6 951.5 427.5 955.9 422.7 961.0C417.9 966.1 412.1 972.9 411.0 977.0C409.9 981.1 411.9 983.5 416.0 985.5C420.1 987.5 429.3 989.9 435.8 988.8C442.3 987.7 448.4 982.5 455.0 979.0C461.6 975.5 466.3 974.5 475.3 968.0C484.3 961.5 498.3 948.0 508.8 940.0C519.3 932.0 528.6 927.5 538.5 920.0C548.4 912.5 559.4 902.0 568.0 895.0C576.6 888.0 583.0 883.4 590.0 878.0C597.0 872.6 606.3 865.5 609.7 862.5C613.1 859.5 610.4 860.7 610.5 860.3C612.3 863.8 617.2 873.8 621.1 881.6C625.0 889.4 631.8 902.9 633.9 907.1L641.3 902.9C640.1 898.3 636.5 884.9 633.9 875.2C631.2 865.5 626.8 849.6 625.4 844.5C629.6 840.4 645.6 824.5 650.9 819.9C656.2 815.3 655.2 816.4 657.3 816.7C659.4 817.1 661.9 818.3 663.7 822.0C665.5 825.7 666.7 833.0 667.9 839.0C669.1 845.0 670.0 852.0 671.1 858.2C672.2 864.5 673.8 873.5 674.3 876.5L684.9 873.0C685.2 871.6 687.2 868.8 687.0 864.6C686.8 860.4 685.3 854.7 683.9 847.6C682.5 840.5 679.8 830.5 678.5 822.0C677.2 813.5 676.0 802.2 676.4 796.5C676.8 790.8 678.1 791.4 680.7 788.0C683.3 784.6 688.7 779.8 692.2 776.0C695.8 772.2 697.6 769.0 702.0 765.0C706.4 761.0 712.9 755.4 718.4 751.9C723.9 748.4 726.6 746.4 734.8 743.7C743.0 741.0 755.3 739.0 767.6 735.5C779.9 732.0 794.9 727.6 808.6 722.4C822.3 717.2 834.6 710.0 849.6 704.3C864.6 698.6 887.1 692.0 898.8 688.0C910.5 684.0 916.5 681.3 920.0 680.0L880.0 585.0Z" fill="url(#nL)"/>
<path d="M1215.0 585.0C1220.4 588.8 1238.3 600.0 1247.2 607.6C1256.1 615.2 1262.0 624.2 1268.6 630.5C1275.2 636.8 1280.6 640.9 1286.6 645.3C1292.6 649.7 1299.9 653.9 1304.6 656.8C1309.2 659.7 1307.9 658.4 1314.5 662.5C1321.1 666.6 1333.6 673.9 1344.0 681.4C1354.4 688.9 1365.9 698.9 1376.8 707.6C1387.7 716.4 1398.7 724.9 1409.6 733.9C1420.5 742.9 1431.4 751.5 1442.4 761.7C1453.4 771.9 1467.4 786.7 1475.8 795.2C1484.2 803.7 1487.8 807.8 1492.8 812.8C1497.8 817.8 1502.6 822.8 1505.5 825.5C1508.4 828.2 1508.5 828.2 1510.0 829.3C1511.5 830.4 1512.5 831.2 1514.4 831.9C1516.3 832.5 1518.9 833.2 1521.5 833.2C1524.1 833.2 1527.1 832.5 1529.8 831.9C1532.5 831.2 1534.0 830.6 1537.4 829.3C1540.8 828.0 1546.0 826.0 1550.2 824.2C1554.5 822.4 1559.9 819.8 1562.9 818.5C1566.0 817.2 1567.0 816.5 1568.5 816.4C1570.0 816.3 1571.1 817.7 1571.6 818.0L1574.6 824.8C1572.6 825.7 1567.0 828.2 1562.9 830.0C1558.8 831.8 1553.9 833.9 1550.2 835.7C1546.5 837.5 1542.9 839.4 1540.6 840.8C1538.2 842.2 1537.6 842.8 1536.1 844.3C1534.6 845.8 1532.2 848.1 1531.8 849.7C1531.4 851.3 1532.0 852.0 1533.6 854.0C1535.2 856.0 1539.1 859.2 1541.5 861.9C1543.9 864.6 1545.6 867.4 1548.2 870.4C1550.8 873.4 1554.2 877.2 1557.3 880.1C1560.3 883.0 1563.0 885.2 1566.5 888.0C1570.0 890.8 1574.5 894.1 1578.6 897.1C1582.6 900.1 1586.8 903.0 1590.8 906.0C1594.8 909.0 1599.1 911.9 1602.9 915.0C1606.7 918.1 1609.6 921.2 1613.7 924.4C1617.8 927.5 1622.8 930.7 1627.3 933.9C1631.8 937.1 1636.4 940.1 1641.0 943.5C1645.6 946.9 1650.7 951.0 1654.7 954.4C1658.7 957.8 1662.2 961.1 1664.9 964.0C1667.6 966.9 1669.6 969.1 1671.1 971.5C1672.6 973.9 1673.5 976.6 1673.8 978.4C1674.1 980.2 1674.0 981.2 1673.1 982.5C1672.2 983.8 1670.3 984.9 1668.4 985.9C1666.5 986.9 1664.0 987.9 1661.5 988.6C1659.0 989.3 1656.1 990.0 1653.3 990.0C1650.5 990.0 1647.6 989.5 1644.4 988.6C1641.2 987.7 1637.6 986.2 1634.2 984.5C1630.8 982.8 1627.3 980.7 1623.9 978.4C1620.5 976.1 1617.1 973.2 1613.7 970.8C1610.3 968.4 1606.9 966.4 1603.4 964.0C1599.9 961.6 1596.9 959.6 1592.9 956.7C1588.9 953.8 1583.8 949.8 1579.3 946.4C1574.8 943.0 1569.7 939.3 1565.6 936.2C1561.5 933.1 1558.6 930.9 1554.7 928.0C1550.8 925.1 1546.3 922.2 1542.2 919.0C1538.1 915.8 1534.8 912.5 1530.0 908.7C1525.2 905.0 1518.5 900.6 1513.7 896.5C1508.9 892.4 1505.0 888.1 1501.0 884.0C1497.0 879.9 1493.1 875.4 1489.6 872.1C1486.1 868.9 1482.3 866.1 1480.0 864.5C1477.7 862.9 1476.5 862.8 1475.8 862.4L1453.5 906.8L1447.0 905.0L1458.0 846.0C1454.2 842.2 1440.0 827.4 1435.0 823.0C1430.0 818.6 1430.3 819.2 1428.0 819.5C1425.7 819.8 1422.8 822.0 1421.1 824.8C1419.4 827.6 1418.7 830.9 1417.7 836.2C1416.8 841.5 1416.6 849.8 1415.4 856.7C1414.2 863.6 1411.3 874.0 1410.5 877.5L1402.0 877.0C1401.4 875.5 1398.8 871.4 1398.4 868.0C1398.0 864.6 1398.4 863.1 1399.5 856.7C1400.6 850.3 1403.6 838.9 1405.2 829.4C1406.8 819.9 1410.0 807.6 1409.0 800.0C1408.0 792.4 1403.0 788.2 1399.0 783.7C1395.0 779.2 1391.4 777.4 1385.0 773.2C1378.6 769.0 1367.2 762.0 1360.4 758.5C1353.6 755.0 1352.2 754.4 1344.0 751.9C1335.8 749.4 1322.1 746.7 1311.2 743.7C1300.3 740.7 1289.3 737.7 1278.4 733.9C1267.5 730.1 1256.5 726.5 1245.6 720.7C1234.7 715.0 1222.1 704.3 1212.8 699.4C1203.5 694.5 1196.1 694.4 1189.8 691.2C1183.5 688.0 1177.5 681.9 1175.0 680.0L1215.0 585.0Z" fill="url(#nR)"/>
<path d="M841.4 724.0C848.2 720.5 857.8 717.8 866.0 715.8C874.2 713.8 881.6 712.1 890.6 711.7C899.6 711.3 907.8 713.7 920.0 713.5C932.2 713.3 950.7 709.9 964.0 710.5C977.3 711.1 986.3 715.3 1000.0 717.0C1013.7 718.7 1029.3 720.3 1046.0 720.5C1062.7 720.7 1086.3 719.2 1100.0 718.0C1113.7 716.8 1118.0 714.0 1128.0 713.5C1138.0 713.0 1146.5 713.8 1160.0 714.8C1173.5 715.8 1195.3 717.5 1209.0 719.7C1222.7 721.9 1232.2 723.1 1242.0 728.0C1251.8 732.9 1260.9 739.5 1268.0 749.0C1275.1 758.5 1281.0 771.3 1284.8 785.0C1288.6 798.7 1289.6 815.2 1291.0 831.0C1292.4 846.8 1293.5 866.8 1293.0 880.0C1292.5 893.2 1290.5 901.7 1288.0 910.0C1285.5 918.3 1282.4 923.2 1278.0 929.7C1273.6 936.2 1270.5 943.0 1261.8 949.0C1253.1 955.0 1239.9 960.7 1225.7 965.7C1211.5 970.7 1193.0 974.1 1176.5 979.0C1160.0 983.9 1143.4 990.9 1127.0 995.0C1110.6 999.1 1094.3 1002.4 1078.0 1003.5C1061.7 1004.6 1045.4 1003.7 1029.0 1001.8C1012.6 999.9 998.9 996.4 979.7 992.0C960.5 987.6 933.7 980.5 914.0 975.6C894.3 970.7 875.7 967.4 861.5 962.5C847.3 957.6 838.0 952.6 828.7 946.0C819.4 939.4 811.6 931.2 805.8 923.0C800.0 914.8 795.6 909.6 794.0 897.0C792.4 884.4 795.4 864.1 796.0 847.6C796.6 831.1 796.6 810.9 797.6 798.0C798.6 785.1 800.2 776.9 802.0 770.0C803.8 763.1 804.8 762.3 808.6 756.8C812.4 751.3 819.5 742.5 825.0 737.0C830.5 731.5 834.6 727.5 841.4 724.0Z" fill="#eee0cb" stroke-width="3.9"/>
<path d="M901.0 724.6C915.2 722.9 925.6 724.6 946.9 726.0C968.2 727.4 1001.6 732.2 1028.9 732.8C1056.2 733.4 1089.2 730.3 1111.0 729.5C1132.8 728.7 1143.7 726.3 1160.0 727.9C1176.3 729.5 1195.3 732.7 1209.0 739.0C1222.7 745.3 1233.8 755.8 1242.0 765.6C1250.2 775.4 1254.9 786.0 1258.5 798.0C1262.1 810.0 1263.2 823.5 1263.5 837.8C1263.8 852.1 1261.9 871.2 1260.0 883.7C1258.1 896.2 1255.0 905.3 1252.0 913.0C1249.0 920.7 1249.2 924.2 1242.0 929.7C1234.8 935.2 1222.7 940.5 1209.0 946.0C1195.3 951.5 1176.3 957.8 1160.0 962.5C1143.7 967.2 1127.4 971.4 1111.0 974.0C1094.6 976.6 1078.1 978.0 1061.7 978.0C1045.3 978.0 1031.6 976.6 1012.5 974.0C993.4 971.4 967.7 966.3 946.9 962.5C926.1 958.7 903.1 955.4 887.8 951.0C872.5 946.6 864.3 942.3 855.0 936.0C845.7 929.7 837.8 921.7 832.0 913.0C826.2 904.3 823.0 893.5 820.5 883.7C818.0 873.9 816.8 863.8 817.0 854.0C817.2 844.2 820.6 835.0 822.0 824.7C823.4 814.4 822.7 803.0 825.5 792.0C828.3 781.0 832.6 768.3 838.6 759.0C844.6 749.7 851.1 741.7 861.5 736.0C871.9 730.3 886.8 726.3 901.0 724.6Z" fill="#00a0c8" stroke-width="3.9"/>
<path d="M920.6 760.7C935.4 757.7 961.7 760.2 979.7 760.7C997.8 761.2 1012.5 763.8 1028.9 764.0C1045.3 764.2 1060.0 762.5 1078.0 762.0C1096.0 761.5 1121.2 759.5 1137.0 760.7C1152.8 761.9 1163.7 765.0 1173.0 769.0C1182.3 773.0 1188.3 777.9 1193.0 785.0C1197.7 792.1 1199.2 801.7 1201.0 811.5C1202.8 821.3 1203.7 832.6 1204.0 844.0C1204.3 855.4 1204.6 870.2 1202.8 880.0C1201.0 889.8 1198.0 896.9 1193.0 903.0C1188.0 909.1 1181.2 913.2 1173.0 916.5C1164.8 919.8 1154.0 920.6 1143.7 923.0C1133.4 925.4 1124.7 928.5 1111.0 931.0C1097.3 933.5 1078.1 937.3 1061.7 937.9C1045.3 938.5 1029.0 936.8 1012.5 934.6C996.0 932.4 978.3 928.3 963.0 924.7C947.7 921.1 932.1 917.6 920.6 913.0C909.1 908.4 901.1 904.0 894.0 896.9C886.9 889.8 882.0 880.5 878.0 870.6C874.0 860.8 870.3 848.7 869.8 837.8C869.2 826.9 871.2 814.9 874.7 805.0C878.2 795.1 883.4 786.1 891.0 778.7C898.6 771.3 905.8 763.7 920.6 760.7Z" fill="#8ddcff" stroke="none"/>
<path d="M848.4 625.3C848.4 621.1 848.6 618.3 850.0 613.6C851.4 608.9 853.6 602.6 856.7 597.0C859.8 591.4 863.7 586.3 868.4 580.2C873.1 574.1 878.7 566.9 885.1 560.2C891.5 553.5 899.0 546.2 906.8 540.1C914.6 534.0 923.5 528.4 931.9 523.4C940.2 518.4 948.5 513.6 956.9 510.0C965.2 506.4 973.6 503.9 982.0 501.7C990.4 499.5 997.3 497.9 1007.0 496.7C1016.7 495.4 1030.3 494.2 1040.0 494.2C1049.7 494.2 1056.7 495.3 1065.0 496.7C1073.3 498.1 1081.6 500.4 1090.0 502.6C1098.4 504.8 1106.8 507.1 1115.2 510.0C1123.6 512.9 1131.9 516.1 1140.2 520.0C1148.5 523.9 1156.9 528.5 1165.3 533.5C1173.7 538.5 1182.9 544.6 1190.4 550.2C1197.9 555.8 1204.3 561.3 1210.4 566.9C1216.5 572.5 1222.3 578.0 1227.0 583.6C1231.7 589.2 1235.6 594.7 1238.8 600.3C1242.0 605.9 1244.6 611.7 1246.3 617.0C1248.0 622.3 1248.7 627.0 1248.8 632.0C1248.9 637.0 1248.4 642.0 1247.0 647.0C1245.6 652.0 1243.5 657.5 1240.5 662.0C1237.5 666.5 1233.5 670.3 1228.8 673.8C1224.0 677.3 1218.4 680.6 1212.0 683.0C1205.6 685.4 1199.6 686.9 1190.4 688.0C1181.2 689.1 1170.9 689.5 1157.0 689.5C1143.1 689.5 1126.3 688.7 1106.8 688.0C1087.3 687.3 1059.4 686.0 1040.0 685.5C1020.6 685.0 1004.2 685.0 990.4 685.1C976.5 685.2 967.5 685.9 956.9 686.3C946.3 686.6 935.2 687.5 926.9 687.2C918.5 686.9 912.9 685.7 906.8 684.6C900.7 683.5 895.7 682.3 890.1 680.5C884.5 678.7 878.1 676.6 873.4 673.8C868.7 671.0 864.8 667.4 861.7 663.8C858.6 660.2 857.0 656.2 855.0 652.0C853.0 647.8 851.1 643.2 850.0 638.7C848.9 634.2 848.4 629.5 848.4 625.3Z" fill="#4a4a4a" stroke="none"/>
<g clip-path="url(#cd)" stroke-width="3">
<path d="M845.0 605.0C849.2 603.4 862.5 598.3 870.0 595.3C877.5 592.3 883.4 590.5 890.1 586.9C896.8 583.3 903.8 578.0 910.2 573.6C916.6 569.2 922.7 564.0 928.5 560.2C934.3 556.4 942.2 552.5 945.0 551.0L940.0 584.0C938.5 584.5 934.6 585.3 931.0 586.9C927.4 588.5 923.4 590.5 918.5 593.6C913.6 596.7 907.9 601.4 901.8 605.3C895.7 609.2 888.5 613.8 881.8 617.0C875.1 620.2 867.8 622.3 861.7 624.5C855.6 626.7 847.8 629.1 845.0 630.0L845.0 605.0Z" fill="#b5cdd9"/>
<path d="M845.0 630.0C847.6 629.8 854.8 629.2 860.9 628.7C867.0 628.2 874.1 627.1 881.8 627.0C889.4 626.9 897.9 628.0 906.8 627.8C915.7 627.6 930.3 626.3 935.0 626.0L955.0 656.0C953.6 655.6 951.0 654.6 946.9 653.7C942.8 652.8 936.1 651.0 930.2 650.4C924.4 649.8 917.6 649.8 911.8 650.4C905.9 651.0 900.5 651.9 895.1 653.7C889.7 655.5 884.8 657.9 879.3 661.3C873.8 664.7 864.9 671.9 862.0 674.0L845.0 630.0Z" fill="#b5cdd9"/>
<path d="M1136.9 541.0C1140.8 542.8 1152.2 547.2 1160.3 551.8C1168.4 556.4 1177.5 562.6 1185.3 568.5C1193.1 574.4 1200.9 581.0 1207.0 586.9C1213.1 592.8 1215.7 596.8 1222.0 603.6C1228.3 610.5 1241.2 623.9 1245.0 628.0L1245.0 655.0C1242.8 652.6 1235.5 644.5 1232.0 640.4C1228.5 636.3 1228.0 634.9 1223.8 630.4C1219.6 625.9 1214.0 619.7 1207.0 613.6C1200.0 607.5 1189.5 598.9 1182.0 593.6C1174.5 588.3 1165.3 583.9 1162.0 581.9L1150.0 560.0L1136.9 541.0Z" fill="#b5cdd9"/>
<path d="M1155.0 626.0C1156.7 626.5 1156.6 626.6 1165.3 628.7C1174.0 630.8 1196.7 635.9 1207.0 638.7C1217.3 641.5 1220.3 643.4 1227.0 645.4C1233.7 647.4 1243.7 650.1 1247.0 651.0L1242.0 677.0C1236.7 675.2 1219.0 669.2 1210.4 666.3C1201.8 663.4 1196.5 661.1 1190.4 659.6C1184.3 658.1 1182.0 657.4 1173.6 657.0C1165.2 656.6 1145.6 657.0 1140.0 657.0L1155.0 626.0Z" fill="#b5cdd9"/>
<path d="M848.4 625.3C848.4 621.1 848.6 618.3 850.0 613.6C851.4 608.9 853.6 602.6 856.7 597.0C859.8 591.4 863.7 586.3 868.4 580.2C873.1 574.1 878.7 566.9 885.1 560.2C891.5 553.5 899.0 546.2 906.8 540.1C914.6 534.0 923.5 528.4 931.9 523.4C940.2 518.4 948.5 513.6 956.9 510.0C965.2 506.4 973.6 503.9 982.0 501.7C990.4 499.5 997.3 497.9 1007.0 496.7C1016.7 495.4 1030.3 494.2 1040.0 494.2C1049.7 494.2 1056.7 495.3 1065.0 496.7C1073.3 498.1 1081.6 500.4 1090.0 502.6C1098.4 504.8 1106.8 507.1 1115.2 510.0C1123.6 512.9 1131.9 516.1 1140.2 520.0C1148.5 523.9 1156.9 528.5 1165.3 533.5C1173.7 538.5 1182.9 544.6 1190.4 550.2C1197.9 555.8 1204.3 561.3 1210.4 566.9C1216.5 572.5 1222.3 578.0 1227.0 583.6C1231.7 589.2 1235.6 594.7 1238.8 600.3C1242.0 605.9 1244.6 611.7 1246.3 617.0C1248.0 622.3 1248.7 627.0 1248.8 632.0C1248.9 637.0 1248.4 642.0 1247.0 647.0C1245.6 652.0 1243.5 657.5 1240.5 662.0C1237.5 666.5 1233.5 670.3 1228.8 673.8C1224.0 677.3 1218.4 680.6 1212.0 683.0C1205.6 685.4 1199.6 686.9 1190.4 688.0C1181.2 689.1 1170.9 689.5 1157.0 689.5C1143.1 689.5 1126.3 688.7 1106.8 688.0C1087.3 687.3 1059.4 686.0 1040.0 685.5C1020.6 685.0 1004.2 685.0 990.4 685.1C976.5 685.2 967.5 685.9 956.9 686.3C946.3 686.6 935.2 687.5 926.9 687.2C918.5 686.9 912.9 685.7 906.8 684.6C900.7 683.5 895.7 682.3 890.1 680.5C884.5 678.7 878.1 676.6 873.4 673.8C868.7 671.0 864.8 667.4 861.7 663.8C858.6 660.2 857.0 656.2 855.0 652.0C853.0 647.8 851.1 643.2 850.0 638.7C848.9 634.2 848.4 629.5 848.4 625.3Z" fill="none" stroke="#000" stroke-width="23.6"/>
<path d="M848.4 625.3C848.4 621.1 848.6 618.3 850.0 613.6C851.4 608.9 853.6 602.6 856.7 597.0C859.8 591.4 863.7 586.3 868.4 580.2C873.1 574.1 878.7 566.9 885.1 560.2C891.5 553.5 899.0 546.2 906.8 540.1C914.6 534.0 923.5 528.4 931.9 523.4C940.2 518.4 948.5 513.6 956.9 510.0C965.2 506.4 973.6 503.9 982.0 501.7C990.4 499.5 997.3 497.9 1007.0 496.7C1016.7 495.4 1030.3 494.2 1040.0 494.2C1049.7 494.2 1056.7 495.3 1065.0 496.7C1073.3 498.1 1081.6 500.4 1090.0 502.6C1098.4 504.8 1106.8 507.1 1115.2 510.0C1123.6 512.9 1131.9 516.1 1140.2 520.0C1148.5 523.9 1156.9 528.5 1165.3 533.5C1173.7 538.5 1182.9 544.6 1190.4 550.2C1197.9 555.8 1204.3 561.3 1210.4 566.9C1216.5 572.5 1222.3 578.0 1227.0 583.6C1231.7 589.2 1235.6 594.7 1238.8 600.3C1242.0 605.9 1244.6 611.7 1246.3 617.0C1248.0 622.3 1248.7 627.0 1248.8 632.0C1248.9 637.0 1248.4 642.0 1247.0 647.0C1245.6 652.0 1243.5 657.5 1240.5 662.0C1237.5 666.5 1233.5 670.3 1228.8 673.8C1224.0 677.3 1218.4 680.6 1212.0 683.0C1205.6 685.4 1199.6 686.9 1190.4 688.0C1181.2 689.1 1170.9 689.5 1157.0 689.5C1143.1 689.5 1126.3 688.7 1106.8 688.0C1087.3 687.3 1059.4 686.0 1040.0 685.5C1020.6 685.0 1004.2 685.0 990.4 685.1C976.5 685.2 967.5 685.9 956.9 686.3C946.3 686.6 935.2 687.5 926.9 687.2C918.5 686.9 912.9 685.7 906.8 684.6C900.7 683.5 895.7 682.3 890.1 680.5C884.5 678.7 878.1 676.6 873.4 673.8C868.7 671.0 864.8 667.4 861.7 663.8C858.6 660.2 857.0 656.2 855.0 652.0C853.0 647.8 851.1 643.2 850.0 638.7C848.9 634.2 848.4 629.5 848.4 625.3Z" fill="none" stroke="#fff" stroke-width="17"/>
</g>
<path d="M848.4 625.3C848.4 621.1 848.6 618.3 850.0 613.6C851.4 608.9 853.6 602.6 856.7 597.0C859.8 591.4 863.7 586.3 868.4 580.2C873.1 574.1 878.7 566.9 885.1 560.2C891.5 553.5 899.0 546.2 906.8 540.1C914.6 534.0 923.5 528.4 931.9 523.4C940.2 518.4 948.5 513.6 956.9 510.0C965.2 506.4 973.6 503.9 982.0 501.7C990.4 499.5 997.3 497.9 1007.0 496.7C1016.7 495.4 1030.3 494.2 1040.0 494.2C1049.7 494.2 1056.7 495.3 1065.0 496.7C1073.3 498.1 1081.6 500.4 1090.0 502.6C1098.4 504.8 1106.8 507.1 1115.2 510.0C1123.6 512.9 1131.9 516.1 1140.2 520.0C1148.5 523.9 1156.9 528.5 1165.3 533.5C1173.7 538.5 1182.9 544.6 1190.4 550.2C1197.9 555.8 1204.3 561.3 1210.4 566.9C1216.5 572.5 1222.3 578.0 1227.0 583.6C1231.7 589.2 1235.6 594.7 1238.8 600.3C1242.0 605.9 1244.6 611.7 1246.3 617.0C1248.0 622.3 1248.7 627.0 1248.8 632.0C1248.9 637.0 1248.4 642.0 1247.0 647.0C1245.6 652.0 1243.5 657.5 1240.5 662.0C1237.5 666.5 1233.5 670.3 1228.8 673.8C1224.0 677.3 1218.4 680.6 1212.0 683.0C1205.6 685.4 1199.6 686.9 1190.4 688.0C1181.2 689.1 1170.9 689.5 1157.0 689.5C1143.1 689.5 1126.3 688.7 1106.8 688.0C1087.3 687.3 1059.4 686.0 1040.0 685.5C1020.6 685.0 1004.2 685.0 990.4 685.1C976.5 685.2 967.5 685.9 956.9 686.3C946.3 686.6 935.2 687.5 926.9 687.2C918.5 686.9 912.9 685.7 906.8 684.6C900.7 683.5 895.7 682.3 890.1 680.5C884.5 678.7 878.1 676.6 873.4 673.8C868.7 671.0 864.8 667.4 861.7 663.8C858.6 660.2 857.0 656.2 855.0 652.0C853.0 647.8 851.1 643.2 850.0 638.7C848.9 634.2 848.4 629.5 848.4 625.3Z" fill="none" stroke-width="3.7"/>
<path d="M1032.0 526.8C1030.6 526.7 1030.7 525.7 1023.8 526.0C1016.9 526.3 1000.1 526.9 990.4 528.4C980.6 529.9 972.3 532.0 965.3 535.1C958.3 538.2 952.8 542.9 948.6 546.8C944.4 550.7 942.4 554.0 940.2 558.5C938.0 563.0 936.7 568.6 935.2 573.6C933.7 578.6 932.1 583.3 931.0 588.6C929.9 593.9 928.8 599.7 928.5 605.3C928.2 610.9 928.5 617.0 929.4 622.0C930.2 627.0 931.5 631.2 933.6 635.4C935.7 639.6 938.0 643.4 941.9 647.0C945.8 650.6 951.6 654.5 956.9 657.0C962.2 659.5 966.6 660.7 973.6 662.0C980.6 663.3 990.3 664.3 998.7 664.6C1007.1 664.9 1017.4 664.3 1023.8 663.8C1030.2 663.2 1033.5 662.4 1037.0 661.3C1040.5 660.2 1043.3 657.7 1044.6 657.0C1044.3 654.0 1043.5 644.2 1043.0 638.7C1042.5 633.2 1041.3 627.6 1041.3 623.7C1041.3 619.8 1041.7 617.2 1043.0 615.3C1044.3 613.4 1047.0 612.1 1049.0 612.2C1051.0 612.3 1053.7 613.0 1055.0 616.0C1056.3 619.0 1056.4 624.9 1056.7 630.4C1057.0 635.9 1055.9 644.3 1056.7 648.7C1057.5 653.1 1058.9 654.9 1061.7 657.0C1064.5 659.1 1067.3 660.3 1073.4 661.3C1079.5 662.3 1090.2 663.0 1098.5 663.0C1106.8 663.0 1116.0 662.6 1123.5 661.3C1131.0 660.0 1138.6 657.8 1143.6 655.4C1148.6 653.0 1150.8 650.3 1153.6 647.0C1156.4 643.7 1158.6 639.6 1160.3 635.4C1162.0 631.2 1163.0 627.0 1163.6 622.0C1164.1 617.0 1164.1 611.1 1163.6 605.3C1163.0 599.4 1162.0 592.8 1160.3 586.9C1158.6 581.0 1156.4 575.5 1153.6 570.2C1150.8 564.9 1147.5 559.7 1143.6 555.2C1139.7 550.8 1135.5 547.1 1130.2 543.5C1124.9 539.9 1118.5 536.1 1111.8 533.5C1105.1 530.9 1097.8 529.0 1090.0 527.6C1082.2 526.2 1071.4 525.0 1065.0 525.1C1058.6 525.2 1054.6 526.7 1051.7 528.4C1048.8 530.1 1048.3 530.6 1047.5 535.1C1046.7 539.6 1046.7 549.2 1046.7 555.2C1046.7 561.2 1048.1 567.1 1047.5 571.0C1046.9 574.9 1044.8 578.1 1043.3 578.6C1041.8 579.1 1039.8 576.8 1038.6 574.0C1037.4 571.2 1037.0 566.5 1036.3 562.0C1035.6 557.5 1035.3 552.7 1034.6 546.8C1033.9 540.9 1032.4 530.1 1032.0 526.8Z" fill="#daeff0" stroke-width="3.2"/>
<path d="M968.6 564.4C970.8 565.0 977.5 566.6 982.0 567.7C986.5 568.8 991.2 568.6 995.4 571.0C999.6 573.4 1002.8 579.1 1007.0 581.9C1011.2 584.7 1014.9 586.7 1020.4 587.8C1025.9 588.9 1034.0 588.6 1040.0 588.6C1046.0 588.6 1052.0 588.6 1056.7 587.8C1061.4 587.0 1065.1 585.4 1068.4 583.6C1071.8 581.8 1074.6 579.4 1076.8 576.9C1079.0 574.4 1079.9 570.7 1081.8 568.5C1083.7 566.3 1085.9 564.9 1088.4 563.5C1090.9 562.1 1093.9 561.3 1096.8 560.2C1099.7 559.1 1104.5 557.4 1106.0 556.8C1105.3 558.5 1103.0 563.5 1101.8 566.9C1100.5 570.2 1098.2 573.6 1098.5 576.9C1098.8 580.2 1101.8 583.8 1103.5 586.9C1105.2 590.0 1106.0 592.8 1108.5 595.3C1111.0 597.8 1115.4 599.2 1118.5 602.0C1121.6 604.8 1125.5 609.0 1126.9 612.0C1128.3 615.0 1128.0 617.9 1126.9 620.3C1125.8 622.7 1123.0 625.0 1120.2 626.2C1117.4 627.5 1113.8 627.9 1110.2 627.8C1106.6 627.6 1102.1 626.8 1098.5 625.3C1094.9 623.8 1091.8 621.5 1088.4 618.7C1085.1 615.9 1081.7 611.0 1078.4 608.6C1075.1 606.2 1072.6 605.2 1068.4 604.5C1064.2 603.8 1059.5 604.2 1053.4 604.5C1047.3 604.8 1038.1 605.0 1032.0 606.0C1025.9 607.0 1021.2 608.2 1017.0 610.3C1012.8 612.4 1009.5 615.4 1007.0 618.7C1004.5 622.1 1003.9 627.5 1002.0 630.4C1000.1 633.3 998.4 635.1 995.4 636.2C992.4 637.3 987.3 638.0 983.7 637.0C980.1 636.0 976.2 633.7 973.6 630.4C971.0 627.1 968.1 621.5 967.8 617.0C967.5 612.5 970.2 607.5 972.0 603.6C973.8 599.7 977.0 597.5 978.7 593.6C980.4 589.7 982.3 584.1 982.0 580.2C981.7 576.3 979.2 572.8 977.0 570.2C974.8 567.6 970.0 565.4 968.6 564.4Z" fill="#9aacab" stroke="none"/>
</g>
<g fill="none" stroke-linecap="round">
<line x1="642" y1="565" x2="1108" y2="252.5" stroke="#00a0e6" stroke-width="5.3"/>
<line x1="619" y1="659" x2="1122" y2="348" stroke="#00a0e6" stroke-width="5.3"/>
<line x1="578" y1="636" x2="1331" y2="168" stroke="#22b14c" stroke-width="3.8" stroke-opacity="0.9" filter="url(#rough)"/>
<line x1="537" y1="294" x2="1016" y2="438" stroke="#ed1c24" stroke-width="3.8" stroke-opacity="0.9" filter="url(#rough)"/>
</g>
<g stroke="#000" stroke-width="1.7" stroke-linecap="butt">
<line x1="872" y1="154.4" x2="1019.4" y2="216"/>
<line x1="815" y1="326" x2="981.4" y2="457.4"/>
<line x1="1182" y1="269.4" x2="1109" y2="510.5"/>
<line x1="1299.6" y1="347.6" x2="1087" y2="587"/>
<line x1="1384.6" y1="411" x2="1133" y2="574"/>
<line x1="1463.6" y1="487.5" x2="1188.9" y2="585.7"/>
<line x1="1559" y1="584" x2="1186" y2="645.9"/>
<line x1="1567" y1="689" x2="1418" y2="777"/>
<line x1="562.7" y1="510.5" x2="672" y2="541"/>
<line x1="507.9" y1="630.3" x2="622" y2="642"/>
<line x1="398.6" y1="837.6" x2="544" y2="781"/>
<line x1="507.6" y1="1085" x2="656" y2="938"/>
<line x1="722" y1="1158" x2="751" y2="867"/>
<line x1="962.8" y1="1168" x2="1004" y2="986"/>
<line x1="1238" y1="1142" x2="1141" y2="943"/>
<line x1="1362" y1="1055.8" x2="1141" y2="851"/>
</g>
<g opacity="0.999">
<g font-size="36" fill="#000">
<text x="586.6" y="163.0" textLength="272.2" lengthAdjust="spacingAndGlyphs">Spinous process</text>
<text x="656.8" y="309.3" textLength="148.1" lengthAdjust="spacingAndGlyphs">Foramen</text>
<text x="366.8" y="357.5" textLength="440.0" lengthAdjust="spacingAndGlyphs">(filled with adipose tissue)</text>
<text x="1186.0" y="254.0" textLength="165.7" lengthAdjust="spacingAndGlyphs">Meninges</text>
<text x="1305.6" y="338.3" textLength="199.3" lengthAdjust="spacingAndGlyphs">Gray matter</text>
<text x="1394.6" y="410.5" textLength="221.4" lengthAdjust="spacingAndGlyphs">White matter</text>
<text x="1479.6" y="492.7" textLength="187.4" lengthAdjust="spacingAndGlyphs">Dorsal root</text>
<text x="1567.8" y="591.7" textLength="199.7" lengthAdjust="spacingAndGlyphs">Ventral root</text>
<text x="1581.8" y="697.0" textLength="208.9" lengthAdjust="spacingAndGlyphs">Spinal nerve</text>
<text x="141.0" y="526.0" textLength="408.5" lengthAdjust="spacingAndGlyphs">Inferior articular process</text>
<text x="64.0" y="639.0" textLength="432.0" lengthAdjust="spacingAndGlyphs">Superior articular process</text>
<text x="44.0" y="828.4" textLength="345.0" lengthAdjust="spacingAndGlyphs">Posterior tubercle of</text>
<text x="85.0" y="876.9" textLength="311.0" lengthAdjust="spacingAndGlyphs">transverse process</text>
<text x="155.0" y="1060.4" textLength="331.4" lengthAdjust="spacingAndGlyphs">Anterior tubercle of</text>
<text x="181.8" y="1109.0" textLength="312.2" lengthAdjust="spacingAndGlyphs">transverse process</text>
<text x="358.0" y="1194.0" textLength="378.0" lengthAdjust="spacingAndGlyphs">Foramen transversium</text>
<text x="843.0" y="1212.8" textLength="250.0" lengthAdjust="spacingAndGlyphs">Vertebral body</text>
<text x="1254.4" y="1188.6" textLength="214.6" lengthAdjust="spacingAndGlyphs">Disc annulus</text>
<text x="1381.0" y="1100.6" textLength="299.0" lengthAdjust="spacingAndGlyphs">Nucleus pulposus</text>
</g>
<g font-size="30.5">
<text x="28.0" y="72.5" textLength="325.0" lengthAdjust="spacingAndGlyphs" fill="#ed1c24">Trajectory of the tuohy</text>
<text x="28.0" y="114.3" textLength="340.0" lengthAdjust="spacingAndGlyphs" fill="#ed1c24">needle: After contacting</text>
<text x="28.0" y="156.2" textLength="163.0" lengthAdjust="spacingAndGlyphs" fill="#ed1c24">lamina, aim</text>
<text x="28.0" y="198.0" textLength="348.0" lengthAdjust="spacingAndGlyphs" fill="#ed1c24">superior/medial to enter</text>
<text x="28.0" y="239.8" textLength="259.0" lengthAdjust="spacingAndGlyphs" fill="#ed1c24">the epidural space</text>
<text x="1374.2" y="60.0" textLength="399.3" lengthAdjust="spacingAndGlyphs" fill="#22b14c">Trajectory of the c-arm/xray</text>
<text x="1374.2" y="101.5" textLength="449.5" lengthAdjust="spacingAndGlyphs" fill="#22b14c">beam: top of the c-arm towards</text>
<text x="1374.2" y="143.0" textLength="377.3" lengthAdjust="spacingAndGlyphs" fill="#22b14c">the patient's RIGHT side to</text>
<text x="1374.2" y="185.0" textLength="450.8" lengthAdjust="spacingAndGlyphs" fill="#00a2e8">vizualize the LEFT lamina &quot;down</text>
<text x="1374.2" y="226.7" textLength="149.8" lengthAdjust="spacingAndGlyphs" fill="#00a2e8">the barrel&quot;</text>
<text x="1214.0" y="1238.7" textLength="632.8" lengthAdjust="spacingAndGlyphs" fill="#ed1c24">Patient prone, looking from the foot towards</text>
<text x="1214.0" y="1280.0" textLength="522.0" lengthAdjust="spacingAndGlyphs" fill="#ed1c24">the head. Patient right is image right.</text>
</g>
<text x="7.6" y="1294" font-size="54" textLength="646.4" lengthAdjust="spacingAndGlyphs"><tspan fill="#ed1c24">The</tspan><tspan fill="#00a2e8">Procedure</tspan><tspan fill="#ed1c24">Guide.com</tspan></text>
</g>
</svg></body></html>
